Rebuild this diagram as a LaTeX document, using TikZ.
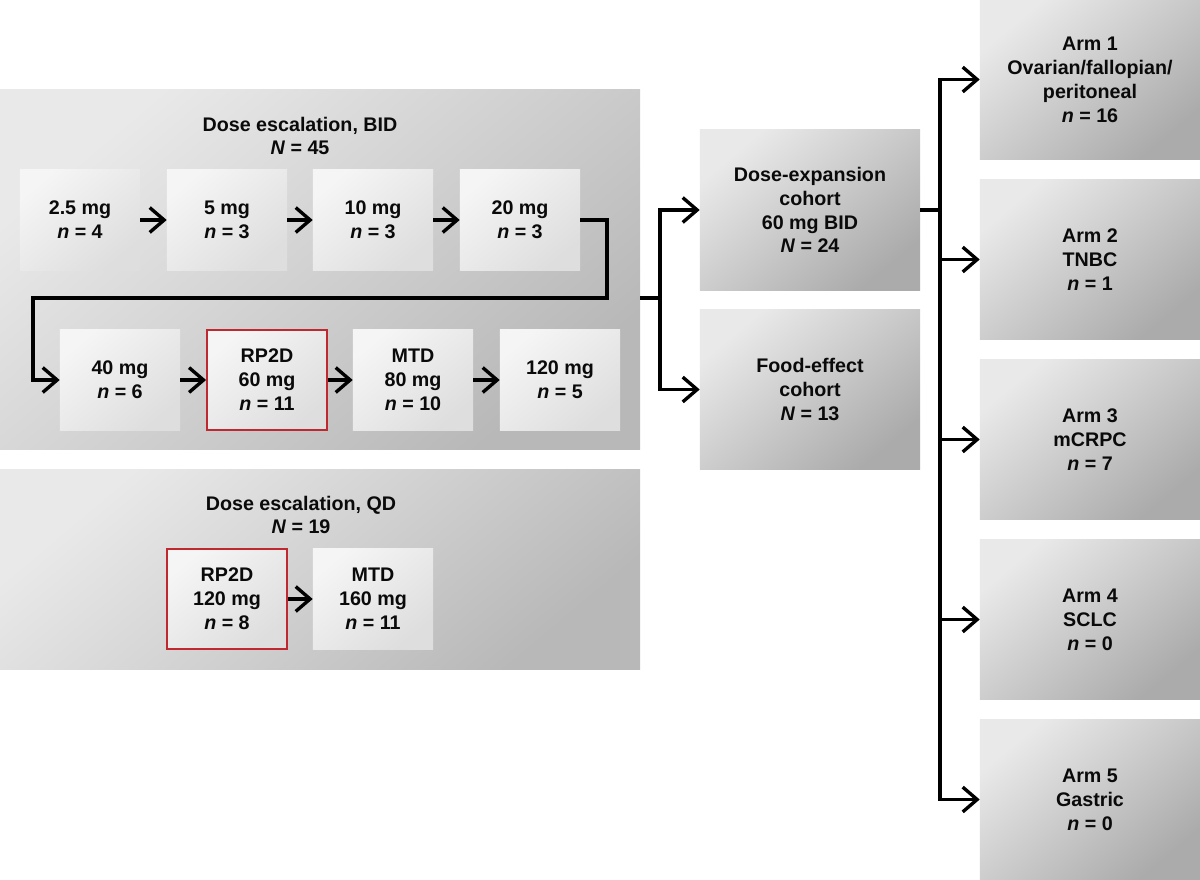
\documentclass[tikz,border=0pt]{standalone}
\usepackage{fontspec}
\setmainfont{Liberation Sans}
\usetikzlibrary{arrows.meta, positioning}
\definecolor{rpred}{RGB}{192, 40, 48}
\definecolor{inkblack}{RGB}{10, 10, 10}
\definecolor{panellight}{gray}{0.915}
\definecolor{paneldark}{gray}{0.72}
\definecolor{doselight}{gray}{0.96}
\definecolor{dosedark}{gray}{0.87}
\definecolor{cohortlight}{gray}{0.915}
\definecolor{cohortdark}{gray}{0.67}

\tikzset{
  panel/.style={shading=axis, top color=panellight, bottom color=paneldark,
                shading angle=40, minimum width=16cm, inner sep=0pt},
  dosebox/.style={shading=axis, top color=doselight, bottom color=dosedark,
                  shading angle=40, minimum width=3cm, minimum height=2.5cm,
                  align=center, text=inkblack},
  rpbox/.style={dosebox, draw=rpred, line width=1.3pt},
  cohortbox/.style={shading=axis, top color=cohortlight, bottom color=cohortdark,
                    shading angle=40, minimum width=5.5cm, align=center,
                    text=inkblack},
  arr/.style={-{Straight Barb[length=0.36cm, width=0.62cm]},
              line width=2.4pt, black},
  link/.style={line width=2.4pt, black}
}

\begin{document}
\begin{tikzpicture}[x=0.025cm, y=-0.025cm,
    font=\fontsize{14}{17}\selectfont\bfseries]
    \useasboundingbox (0,0) rectangle (1200,879);

    % panels
    \node[panel, minimum height=8.975cm] (bid) at (320,269.5) {};
    \node[text=inkblack, align=center] (bidtitle) at (300,136)
      {Dose escalation, BID\\\textit{N} = 45};
    \node[panel, minimum height=4.975cm] (qd) at (320,569.5) {};
    \node[text=inkblack, align=center] (qdtitle) at (301,515)
      {Dose escalation, QD\\\textit{N} = 19};

    % BID doses
    \node[dosebox] (d25) at (80,220) {2.5 mg\\\textit{n} = 4};
    \node[dosebox] (d5) at (227,220) {5 mg\\\textit{n} = 3};
    \node[dosebox] (d10) at (373,220) {10 mg\\\textit{n} = 3};
    \node[dosebox] (d20) at (520,220) {20 mg\\\textit{n} = 3};
    \node[dosebox] (d40) at (120,380) {40 mg\\\textit{n} = 6};
    \node[rpbox] (d60) at (267,380) {RP2D\\60 mg\\\textit{n} = 11};
    \node[dosebox] (d80) at (413,380) {MTD\\80 mg\\\textit{n} = 10};
    \node[dosebox] (d120) at (560,380) {120 mg\\\textit{n} = 5};

    % QD doses
    \node[rpbox] (q120) at (227,599) {RP2D\\120 mg\\\textit{n} = 8};
    \node[dosebox] (q160) at (373,599) {MTD\\160 mg\\\textit{n} = 11};

    % cohorts
    \node[cohortbox, minimum height=4cm] (expand) at (810,210)
      {Dose-expansion\\cohort\\60 mg BID\\\textit{N} = 24};
    \node[cohortbox, minimum height=3.975cm] (food) at (810,389.5)
      {Food-effect\\cohort\\\textit{N} = 13};

    % arms
    \node[cohortbox, minimum height=3.975cm] (arm1) at (1090,79.5)
      {Arm 1\\Ovarian/fallopian/\\peritoneal\\\textit{n} = 16};
    \node[cohortbox, minimum height=3.975cm] (arm2) at (1090,259.5)
      {Arm 2\\TNBC\\\textit{n} = 1};
    \node[cohortbox, minimum height=3.975cm] (arm3) at (1090,439.5)
      {Arm 3\\mCRPC\\\textit{n} = 7};
    \node[cohortbox, minimum height=3.975cm] (arm4) at (1090,619.5)
      {Arm 4\\SCLC\\\textit{n} = 0};
    \node[cohortbox, minimum height=3.975cm] (arm5) at (1090,799.5)
      {Arm 5\\Gastric\\\textit{n} = 0};

    % dose steps
    \draw[arr] (d25) -- (d5);
    \draw[arr] (d5) -- (d10);
    \draw[arr] (d10) -- (d20);
    \coordinate (turnR) at (607,298);
    \coordinate (turnL) at (33,298);
    \draw[arr] (d20.east) -| (turnR) -- (turnL) |- (d40.west);
    \draw[arr] (d40) -- (d60);
    \draw[arr] (d60) -- (d80);
    \draw[arr] (d80) -- (d120);
    \draw[arr] (q120) -- (q160);

    % to cohorts
    \coordinate (split) at (660,298);
    \draw[link] (bid.east |- split) -- (split);
    \draw[arr] (split) |- (expand.west);
    \draw[arr] (split) |- (food.west);

    % to arms
    \coordinate (fan) at (940,210);
    \draw[link] (expand.east) -- (fan);
    \foreach \a in {1,...,5}
      \draw[arr] (fan) |- (arm\a.west);
  \end{tikzpicture}
\end{document}
